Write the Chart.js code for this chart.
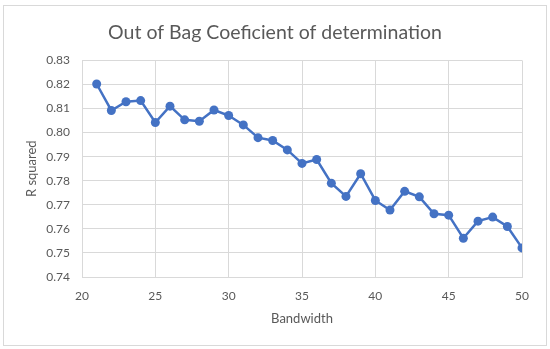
<!DOCTYPE html>
<html>
<head>
<meta charset="utf-8">
<script src="https://cdn.jsdelivr.net/npm/chart.js@4/dist/chart.umd.min.js"></script>
<style>
  html, body { margin: 0; padding: 0; background: #fff; }
  .wrap { position: relative; width: 550px; height: 349px; }
  .frame { position: absolute; left: 3px; top: 5px; width: 542px; height: 339px; border: 1px solid #d9d9d9; }
  canvas { position: absolute; left: 0; top: 0; }
</style>
</head>
<body>
<div class="wrap">
  <div class="frame"></div>
  <canvas id="chart" width="550" height="349"></canvas>
</div>
<script>
const bandwidth = [21, 22, 23, 24, 25, 26, 27, 28, 29, 30, 31, 32, 33, 34, 35, 36, 37, 38, 39, 40, 41, 42, 43, 44, 45, 46, 47, 48, 49, 50];
const rSquared = [0.8202, 0.8092, 0.8128, 0.8133, 0.8042, 0.8110, 0.8053, 0.8047, 0.8094, 0.8071,
  0.8032, 0.7979, 0.7967, 0.7928, 0.7872, 0.7888, 0.7790, 0.7735, 0.7829, 0.7718,
  0.7678, 0.7756, 0.7733, 0.7663, 0.7657, 0.7561, 0.7632, 0.7649, 0.7610, 0.7521];
const yTicks = { min: 0.74, max: 0.83, step: 0.01 };
const xTicks = { min: 20, max: 50, step: 5 };

const textColor = '#595959';
const gridColor = '#d9d9d9';
const fontFamily = 'Lato, "Open Sans", sans-serif';

new Chart(document.getElementById('chart'), {
  type: 'line',
  data: {
    datasets: [{
      label: 'R squared',
      data: bandwidth.map((b, i) => ({ x: b, y: rSquared[i] })),
      borderColor: '#4472C4',
      backgroundColor: '#4472C4',
      borderWidth: 2.5,
      pointRadius: 4.5,
      pointBorderWidth: 0,
      tension: 0,
    }],
  },
  options: {
    responsive: false,
    animation: false,
    layout: { padding: { left: 28, right: 28, top: 15, bottom: 0 } },
    plugins: {
      legend: { display: false },
      tooltip: { enabled: false },
      title: {
        display: true,
        text: 'Out of Bag Coeficient of determination',
        color: textColor,
        font: { family: fontFamily, size: 19.5, weight: 'normal' },
        padding: { top: 6, bottom: 16 },
      },
    },
    scales: {
      x: {
        type: 'linear',
        min: xTicks.min,
        max: xTicks.max,
        ticks: { stepSize: xTicks.step, color: textColor, font: { family: fontFamily, size: 12 }, padding: 12 },
        grid: { color: gridColor, drawTicks: false },
        border: { color: gridColor },
        title: { display: true, text: 'Bandwidth', color: textColor, font: { family: fontFamily, size: 13 }, padding: { top: 6, bottom: 22 } },
        afterFit: (s) => { s.height = 72; },
      },
      y: {
        min: yTicks.min,
        max: yTicks.max,
        ticks: {
          stepSize: yTicks.step,
          color: textColor,
          font: { family: fontFamily, size: 12 },
          padding: 12,
          callback: (v) => v.toFixed(2),
        },
        grid: { color: gridColor, drawTicks: false },
        border: { color: gridColor },
        title: { display: true, text: 'R squared', color: textColor, font: { family: fontFamily, size: 13 }, padding: { top: -4, bottom: 0 } },
        afterFit: (s) => { s.width = 54; },
      },
    },
  },
});
</script>
</body>
</html>
